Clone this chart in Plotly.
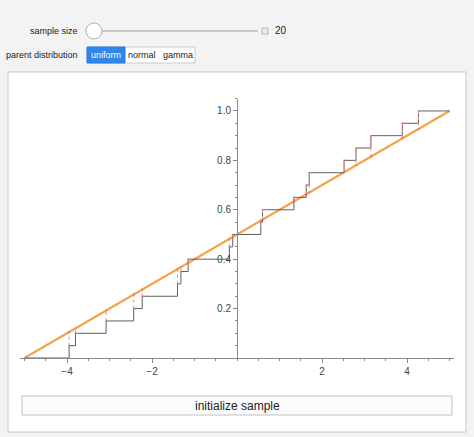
import plotly.graph_objects as go
import numpy as np

samples = [-3.95, -3.8, -3.08, -2.43, -2.23, -1.40, -1.32, -1.15, -0.18, -0.10,
           0.56, 0.60, 1.34, 1.63, 1.70, 2.52, 2.80, 3.15, 3.89, 4.27]
x_lo, x_hi = -5, 5
W, H = 474, 437

n = len(samples)
ecdf = [(i + 1) / n for i in range(n)]
sx = [x_lo]; sy = [0]
prev = 0
for s, e in zip(samples, ecdf):
    sx += [s, s]; sy += [prev, e]; prev = e
sx.append(x_hi); sy.append(1)

cdf = lambda v: (v - x_lo) / (x_hi - x_lo)

fig = go.Figure()
fig.add_trace(go.Scatter(x=[x_lo, x_hi], y=[cdf(x_lo), cdf(x_hi)], mode="lines",
                         line=dict(color="#f5a24b", width=2.2), hoverinfo="skip"))
fig.add_trace(go.Scatter(x=sx, y=sy, mode="lines", line=dict(color="#606060", width=1), hoverinfo="skip"))
dx, dy = [], []
for s, e in zip(samples, ecdf):
    dx += [s, s, None]; dy += [e, cdf(s), None]
fig.add_trace(go.Scatter(x=dx, y=dy, mode="lines", line=dict(color="#f08a8a", width=1, dash="dot"), hoverinfo="skip"))
fig.add_trace(go.Scatter(x=samples + samples, y=ecdf + [cdf(s) for s in samples], mode="markers",
                         marker=dict(color="#e07070", size=2, opacity=0.7), hoverinfo="skip"))

def px(x): return x / W
def py(y): return 1 - y / H

shapes = [
    dict(type="rect", xref="paper", yref="paper", x0=px(8), x1=px(466), y0=py(432), y1=py(72),
         line=dict(color="#c8c8c8", width=1), fillcolor="white", layer="below"),
    dict(type="line", xref="paper", yref="paper", x0=px(90), x1=px(258), y0=py(31), y1=py(31),
         line=dict(color="#c8c8c8", width=2)),
    dict(type="circle", xref="paper", yref="paper", x0=px(86), x1=px(102), y0=py(39), y1=py(23),
         line=dict(color="#b0b0b0", width=1), fillcolor="white"),
    dict(type="rect", xref="paper", yref="paper", x0=px(262), x1=px(268), y0=py(34), y1=py(28),
         line=dict(color="#b0b0b0", width=1), fillcolor="#eee"),
    dict(type="rect", xref="paper", yref="paper", x0=px(87), x1=px(195), y0=py(63), y1=py(47),
         line=dict(color="#c8c8c8", width=1), fillcolor="white"),
    dict(type="rect", xref="paper", yref="paper", x0=px(87), x1=px(125), y0=py(63), y1=py(47),
         line=dict(color="#2a7be0", width=1), fillcolor="#2f86ec"),
    dict(type="rect", xref="paper", yref="paper", x0=px(22), x1=px(452), y0=py(415), y1=py(396),
         line=dict(color="#c0c0c0", width=1), fillcolor="#fbfbfb"),
]
ann = [
    dict(text="sample size", x=px(80), y=py(31), xanchor="right"),
    dict(text="20", x=px(273), y=py(31), xanchor="left", size=10),
    dict(text="parent distribution", x=px(80), y=py(55), xanchor="right"),
    dict(text="uniform", x=px(106), y=py(55), xanchor="center", color="white"),
    dict(text="normal", x=px(142), y=py(55), xanchor="center"),
    dict(text="gamma", x=px(178), y=py(55), xanchor="center"),
    dict(text="initialize sample", x=px(237), y=py(405.5), xanchor="center", size=12),
]
annotations = [dict(text=a["text"], x=a["x"], y=a["y"], xref="paper", yref="paper", xanchor=a["xanchor"],
                    yanchor="middle", showarrow=False,
                    font=dict(size=a.get("size", 9), color=a.get("color", "#222"), family="Liberation Sans"))
               for a in ann]

fig.update_layout(
    width=W, height=H, margin=dict(l=0, r=0, t=0, b=0), showlegend=False,
    paper_bgcolor="#f3f3f3", plot_bgcolor="rgba(0,0,0,0)",
    shapes=shapes, annotations=annotations,
    font=dict(family="Liberation Sans", size=10, color="#444"),
    xaxis=dict(range=[-5.1, 5.1], domain=[px(20.25), px(453.75)], showgrid=False, zeroline=False,
               showline=True, linecolor="#888", ticks="outside", ticklen=4, tickcolor="#888",
               tickvals=[-4, -2, 2, 4], ticktext=["−4", "−2", "2", "4"],
               minor=dict(dtick=0.5, ticks="outside", ticklen=2, tickcolor="#888"),
               anchor="y", fixedrange=True),
    yaxis=dict(range=[0, 1.05], domain=[py(358), py(98.6)], showgrid=False, zeroline=False,
               showline=True, linecolor="#888", ticks="outside", ticklen=4, tickcolor="#888",
               tickvals=[0.2, 0.4, 0.6, 0.8, 1.0], ticktext=["0.2", "0.4", "0.6", "0.8", "1.0"],
               minor=dict(dtick=0.05, ticks="outside", ticklen=2, tickcolor="#888"),
               anchor="free", position=px(237), fixedrange=True),
)
fig.write_html("out.html", config=dict(displayModeBar=False),
               post_script="document.body.style.margin='0';document.body.style.overflow='hidden';")
